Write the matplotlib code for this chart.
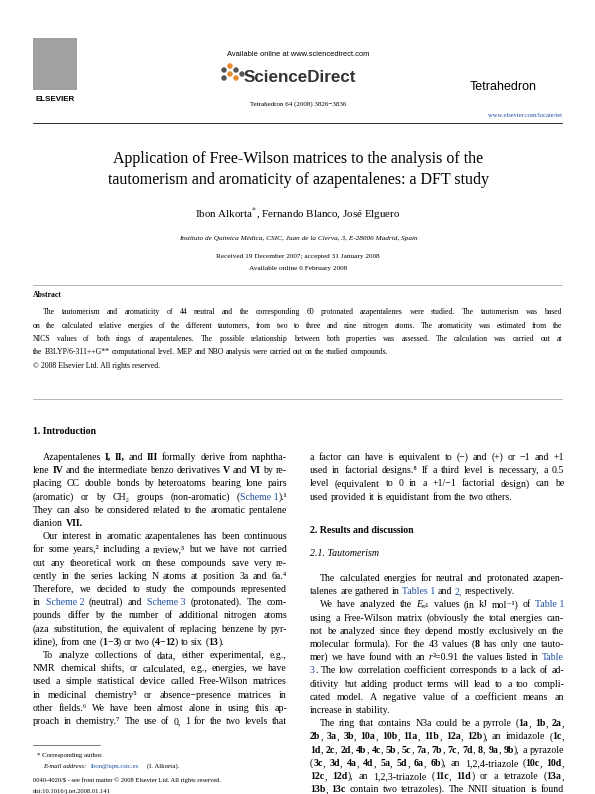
import matplotlib
matplotlib.use("Agg")
import matplotlib.pyplot as plt
from matplotlib.patches import Rectangle, Circle

plt.rcParams['font.family'] = ['Liberation Serif', 'DejaVu Serif']
plt.rcParams['mathtext.fontset'] = 'stix'

W, H = 595, 794
BS = 9.9
fig = plt.figure(figsize=(W/72, H/72), dpi=72)
ax = fig.add_axes([0, 0, 1, 1])
ax.set_xlim(0, W); ax.set_ylim(H, 0); ax.axis('off')
BLUE = '#1f4fa0'
r = fig.canvas.get_renderer()
inv = ax.transData.inverted()

def T(x, y, s, size=BS, **kw):
    return ax.text(x, y, s, fontsize=size, va='baseline', **kw)

def seg_props(w):
    kw = {}
    while w and w[0] in '~§^':
        if w[0] == '~': kw['color'] = BLUE
        if w[0] == '§': kw['fontweight'] = 'bold'
        if w[0] == '^': kw['style'] = 'italic'
        w = w[1:]
    return w.replace('_', ' '), kw

def width_of(o):
    bb = o.get_window_extent(r)
    p0 = inv.transform((bb.x0, bb.y0)); p1 = inv.transform((bb.x1, bb.y0))
    return p1[0] - p0[0]

def line(x, y, s, width=254, size=BS, justify=True):
    words = []
    for w in s.split(' '):
        segs = []
        for sg in w.split('|'):
            t, kw = seg_props(sg)
            o = T(x, y, t, size=size, **kw)
            segs.append((o, width_of(o)))
        words.append(segs)
    ws = [sum(w for _, w in segs) for segs in words]
    sp = size * 0.25
    if justify and len(words) > 1:
        sp = (width - sum(ws)) / (len(words) - 1)
    cx = x
    for segs, w in zip(words, ws):
        sx = cx
        for o, sw in segs:
            o.set_x(sx); sx += sw
        cx += w + sp

def para(x, y0, lines, dy=13.2, width=254, indent=10, size=BS, last_justified=False):
    for i, s in enumerate(lines):
        xx = x + (indent if i == 0 else 0)
        line(xx, y0 + i*dy, s, width=width - (indent if i == 0 else 0), size=size,
             justify=(i < len(lines)-1) or last_justified)
    return y0 + len(lines)*dy

# ---------------- header ----------------
ax.add_patch(Rectangle((33, 38), 44, 52, color='#555555', alpha=0.55, lw=0))
T(55, 101, 'ELSEVIER', size=8, ha='center', family='Liberation Sans', fontweight='bold')
T(298, 56, 'Available online at www.sciencedirect.com', size=7.5, ha='center', family='Liberation Sans')
for i, (dx, dy) in enumerate([(0,0),(6,-4),(12,0),(6,4),(0,8),(12,8),(18,4)]):
    ax.add_patch(Circle((224+dx, 70+dy), 2.2, color='#e58a2c' if i % 2 else '#555555'))
T(300, 82, 'ScienceDirect', size=17, ha='center', family='Liberation Sans', fontweight='bold', color='#333333')
T(470, 90, 'Tetrahedron', size=12.5, family='Liberation Sans')
T(298, 106, 'Tetrahedron 64 (2008) 3826\u22123836', size=7, ha='center')
T(562, 117, 'www.elsevier.com/locate/tet', size=6.5, ha='right', color=BLUE)
ax.plot([33, 562], [123, 123], color='k', lw=0.8)

T(298, 163, 'Application of Free-Wilson matrices to the analysis of the', size=16, ha='center')
T(298, 184, 'tautomerism and aromaticity of azapentalenes: a DFT study', size=16, ha='center')
T(298, 218, 'Ibon Alkorta$^{*}$, Fernando Blanco, José Elguero', size=11, ha='center')
T(298, 240, 'Instituto de Química Médica, CSIC, Juan de la Cierva, 3, E-28006 Madrid, Spain', size=7.3, ha='center', style='italic')
T(298, 258, 'Received 19 December 2007; accepted 31 January 2008', size=7.3, ha='center')
T(298, 270, 'Available online 6 February 2008', size=7.3, ha='center')
ax.plot([33, 562], [285, 285], color='#888888', lw=0.6)

T(33, 297, 'Abstract', size=7.8, fontweight='bold')
abstract = [
    'The tautomerism and aromaticity of 44 neutral and the corresponding 60 protonated azapentalenes were studied. The tautomerism was based',
    'on the calculated relative energies of the different tautomers, from two to three and nine nitrogen atoms. The aromaticity was estimated from the',
    'NICS values of both rings of azapentalenes. The possible relationship between both properties was assessed. The calculation was carried out at',
    'the B3LYP/6-311++G** computational level. MEP and NBO analysis were carried out on the studied compounds.',
]
para(33, 314, abstract, dy=13.5, width=529, indent=10, size=7.8)
T(33, 368, '\u00a9 2008 Elsevier Ltd. All rights reserved.', size=7.8)
ax.plot([33, 562], [399, 399], color='#888888', lw=0.6)

# ---------------- left column ----------------
L = 33; R = 310
T(L, 434, '1. Introduction', fontweight='bold')
p1 = ['Azapentalenes §I, §II, and §III formally derive from naphtha-',
      'lene §IV and the intermediate benzo derivatives §V and §VI by re-',
      'placing CC double bonds by heteroatoms bearing lone pairs',
      '(aromatic) or by CH\u2082 groups (non-aromatic) (|~Scheme_1|).\u00b9',
      'They can also be considered related to the aromatic pentalene',
      'dianion §VII.']
y = para(L, 460, p1)
p2 = ['Our interest in aromatic azapentalenes has been continuous',
      'for some years,\u00b2 including a review,\u00b3 but we have not carried',
      'out any theoretical work on these compounds save very re-',
      'cently in the series lacking N atoms at position 3a and 6a.\u2074',
      'Therefore, we decided to study the compounds represented',
      'in ~Scheme_2 (neutral) and ~Scheme_3 (protonated). The com-',
      'pounds differ by the number of additional nitrogen atoms',
      '(aza substitution, the equivalent of replacing benzene by pyr-',
      'idine), from one (|§1|\u2212|§3|) or two (|§4|\u2212|§12|) to six (|§13|).']
y = para(L, y, p2)
p3 = ['To analyze collections of data, either experimental, e.g.,',
      'NMR chemical shifts, or calculated, e.g., energies, we have',
      'used a simple statistical device called Free-Wilson matrices',
      'in medicinal chemistry\u2075 or absence\u2212presence matrices in',
      'other fields.\u2076 We have been almost alone in using this ap-',
      'proach in chemistry.\u2077 The use of 0, 1 for the two levels that']
para(L, y, p3, last_justified=True)

ax.plot([L, 100], [745, 745], color='k', lw=0.5)
T(L + 4, 757, '* Corresponding author.', size=6.8)
T(L + 10, 768, 'E-mail address:', size=6.8, style='italic')
T(L + 58, 768, 'ibon@iqm.csic.es', size=6.8, color=BLUE)
T(L + 114, 768, '(I. Alkorta).', size=6.8)
T(L, 782, '0040-4020/\$ - see front matter \u00a9 2008 Elsevier Ltd. All rights reserved.', size=6.5)
T(L, 793, 'doi:10.1016/j.tet.2008.01.141', size=6.5)

# ---------------- right column ----------------
r1 = ['a factor can have is equivalent to (\u2212) and (+) or \u22121 and +1',
      'used in factorial designs.\u2078 If a third level is necessary, a 0.5',
      'level (equivalent to 0 in a +1/\u22121 factorial design) can be',
      'used provided it is equidistant from the two others.']
para(R, 460, r1, indent=0)
T(R, 533, '2. Results and discussion', fontweight='bold')
T(R, 556, '2.1. Tautomerism', style='italic')
r2 = ['The calculated energies for neutral and protonated azapen-',
      'talenes are gathered in ~Tables_1 and ~2, respectively.']
y = para(R, 581, r2)
r3 = ['We have analyzed the ^E|\u1d63\u2091\u2097 values (in kJ mol\u207b\u00b9) of ~Table_1',
      'using a Free-Wilson matrix (obviously the total energies can-',
      'not be analyzed since they depend mostly exclusively on the',
      'molecular formula). For the 43 values (|§8 has only one tauto-',
      'mer) we have found with an ^r|\u00b2=0.91 the values listed in ~Table',
      '~3|. The low correlation coefficient corresponds to a lack of ad-',
      'ditivity but adding product terms will lead to a too compli-',
      'cated model. A negative value of a coefficient means an',
      'increase in stability.']
y = para(R, y, r3)
r4 = ['The ring that contains N3a could be a pyrrole (|§1a|, §1b|, §2a|,',
      '§2b|, §3a|, §3b|, §10a|, §10b|, §11a|, §11b|, §12a|, §12b|), an imidazole (|§1c|,',
      '§1d|, §2c|, §2d|, §4b|, §4c|, §5b|, §5c|, §7a|, §7b|, §7c|, §7d|, §8|, §9a|, §9b|), a pyrazole',
      '(|§3c|, §3d|, §4a|, §4d|, §5a|, §5d|, §6a|, §6b|), an 1,2,4-triazole (|§10c|, §10d|,',
      '§12c|, §12d|), an 1,2,3-triazole (|§11c|, §11d|) or a tetrazole (|§13a|,',
      '§13b|, §13c contain two tetrazoles). The NNII situation is found']
para(R, y, r4, last_justified=True)

fig.savefig('out.png', dpi=72)
